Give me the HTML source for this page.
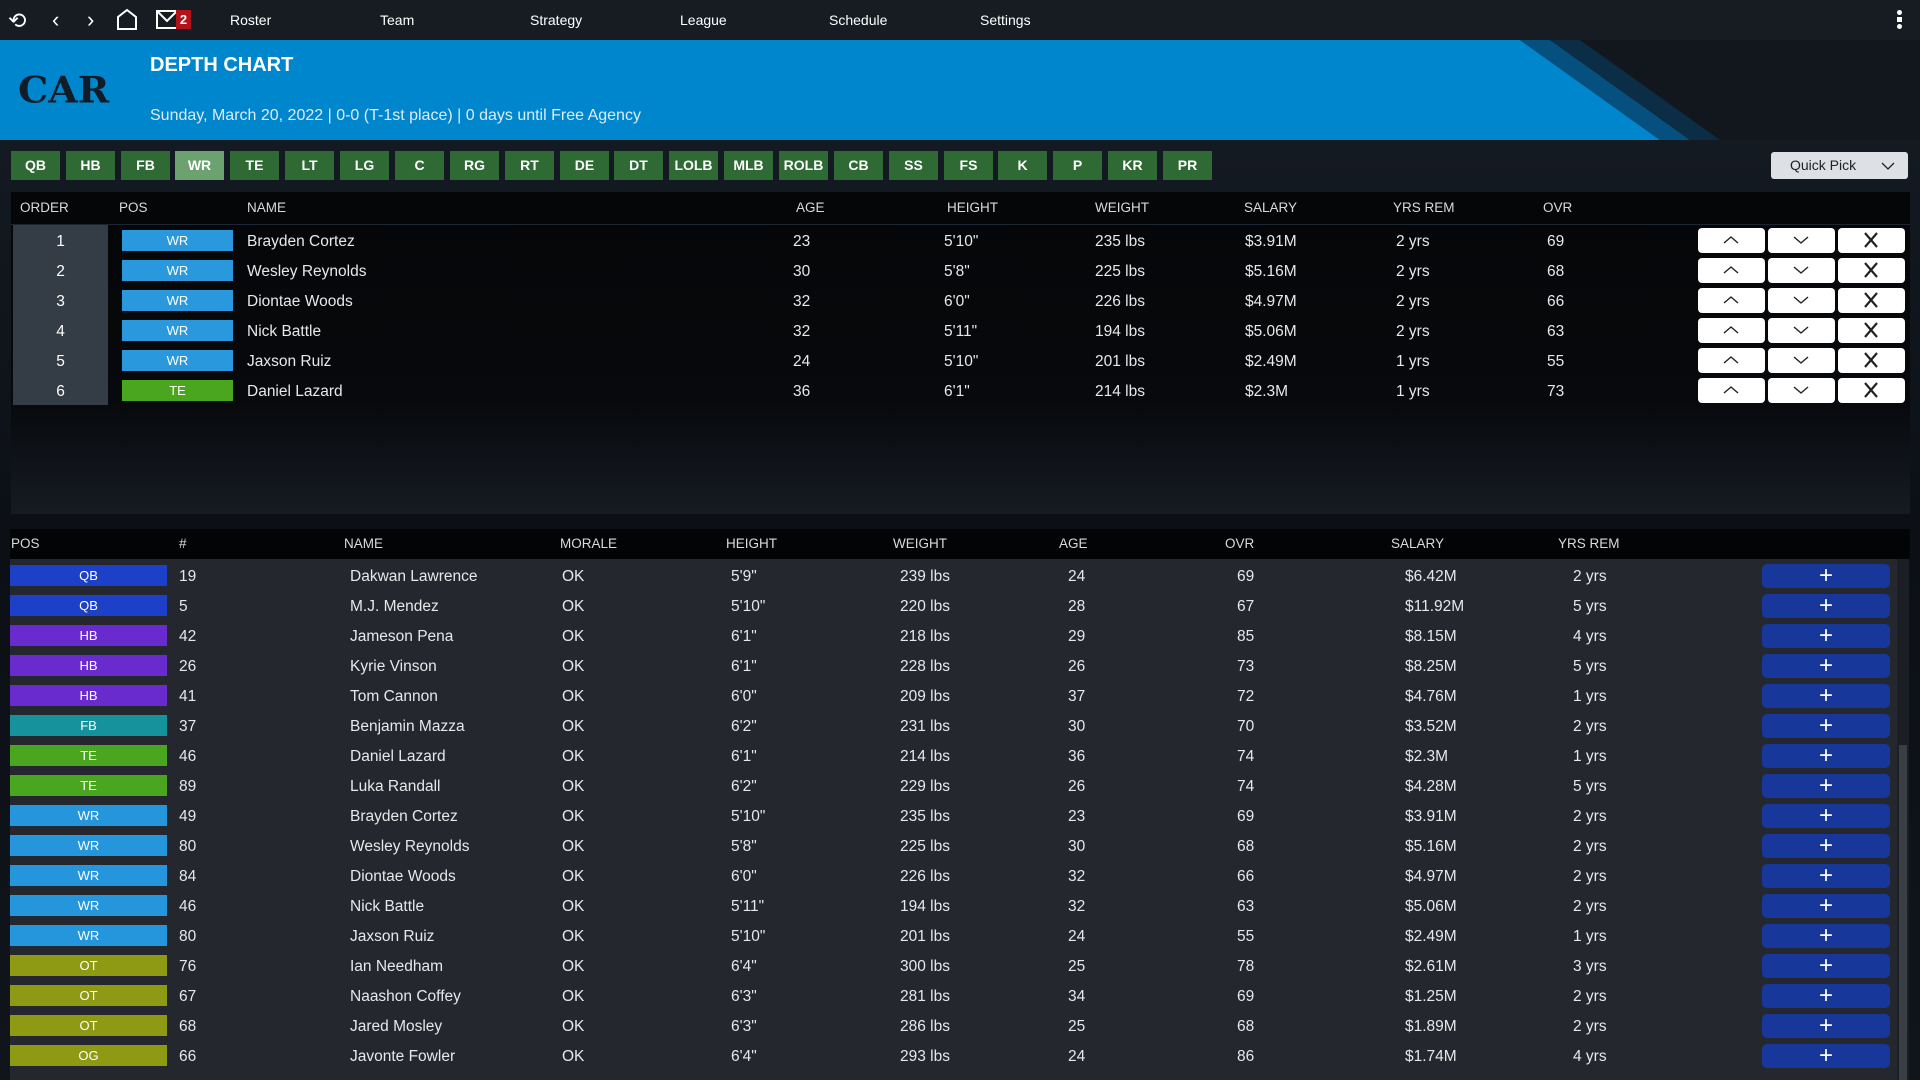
<!DOCTYPE html>
<html><head><meta charset="utf-8"><style>
*{margin:0;padding:0;box-sizing:border-box}
body{width:1920px;height:1080px;overflow:hidden;background:#0d1117;font-family:"Liberation Sans",sans-serif;color:#e6e8ea;position:relative}
.a{position:absolute;white-space:nowrap}
#nav{position:absolute;left:0;top:0;width:1920px;height:40px;background:#171c23}
.nl{position:absolute;top:12px;font-size:14px;color:#fff}
#hdr{position:absolute;left:0;top:40px;width:1920px;height:100px;background:#12171d;overflow:hidden}
.tab{position:absolute;top:151px;width:49px;height:29px;background:#2f6a35;color:#fff;font-weight:bold;font-size:14px;text-align:center;line-height:29px}
.hd{font-size:13.5px;color:#d8dadc}
.row{position:absolute;height:30px;font-size:15.5px;line-height:30px}
.row span{position:absolute;top:2px}
.ord{position:absolute;left:13px;width:95px;height:30px;background:#343c46;text-align:center;color:#fff;padding-top:2px}
.bd{position:absolute;height:21px;top:5px;line-height:21px;text-align:center;font-size:13px;color:#fff}
.btn{position:absolute;top:3px;height:25px;width:67px;background:#fff;border-radius:4px}
.btn svg{position:absolute;left:23px;top:3px}
.pb{position:absolute;left:1762px;top:4px;width:128px;height:24px;background:#17389a;border-radius:5px;color:#fff;text-align:center;line-height:24px;font-size:24px}
</style></head><body>
<div id="nav">
 <div class="a" style="left:8px;top:8px;font-size:22px;color:#fff">&#x27F2;</div>
 <div class="a" style="left:52px;top:7px;font-size:22px;color:#fff">&#8249;</div>
 <div class="a" style="left:87px;top:7px;font-size:22px;color:#fff">&#8250;</div>
 <svg class="a" style="left:116px;top:8px" width="22" height="22"><path d="M2 21V9L11 2L20 9V21Z" fill="none" stroke="#fff" stroke-width="2"/></svg>
 <svg class="a" style="left:156px;top:10px" width="22" height="20"><rect x="1" y="1" width="20" height="17" fill="none" stroke="#fff" stroke-width="2"/><path d="M1 1L11 11L21 1" fill="none" stroke="#fff" stroke-width="2"/></svg>
 <div class="a" style="left:176px;top:10px;width:15px;height:19px;background:#b3121b;color:#fff;font-size:13px;font-weight:bold;text-align:center;line-height:19px">2</div>
 <div class="nl" style="left:230px">Roster</div>
 <div class="nl" style="left:380px">Team</div>
 <div class="nl" style="left:530px">Strategy</div>
 <div class="nl" style="left:680px">League</div>
 <div class="nl" style="left:829px">Schedule</div>
 <div class="nl" style="left:980px">Settings</div>
 <div class="a" style="left:1897px;top:10px;width:5px;height:5px;background:#fff;border-radius:50%"></div>
 <div class="a" style="left:1897px;top:17px;width:5px;height:5px;background:#fff"></div>
 <div class="a" style="left:1897px;top:24px;width:5px;height:5px;background:#fff;border-radius:50%"></div>
</div>
<div id="hdr">
 <svg class="a" style="left:0;top:0" width="1920" height="100"><polygon points="0,0 1520,0 1660,100 0,100" fill="#0086cc"/><polygon points="1520,0 1550,0 1690,100 1660,100" fill="#06507f"/><polygon points="1550,0 1580,0 1720,100 1690,100" fill="#0b2d45"/></svg>
 <div class="a" style="left:18px;top:27px;font-family:'DejaVu Serif',serif;font-weight:bold;font-size:38px;color:#101c28;transform:scaleY(0.95)">CAR</div>
 <div class="a" style="left:150px;top:14px;font-size:20px;font-weight:bold;color:#fff">DEPTH CHART</div>
 <div class="a" style="left:150px;top:67px;font-size:16px;color:#dcecf6">Sunday, March 20, 2022 | 0-0 (T-1st place) | 0 days until Free Agency</div>
</div>
<div class="a" style="left:0;top:140px;width:1920px;height:940px;background:linear-gradient(180deg,#141a22 0%,#0c1016 40%,#10151b 100%)"></div>
<div class="tab" style="left:11px">QB</div><div class="tab" style="left:66px">HB</div><div class="tab" style="left:121px">FB</div><div class="tab" style="left:175px;background:#6ba26f">WR</div><div class="tab" style="left:230px">TE</div><div class="tab" style="left:285px">LT</div><div class="tab" style="left:340px">LG</div><div class="tab" style="left:395px">C</div><div class="tab" style="left:450px">RG</div><div class="tab" style="left:505px">RT</div><div class="tab" style="left:560px">DE</div><div class="tab" style="left:614px">DT</div><div class="tab" style="left:669px">LOLB</div><div class="tab" style="left:724px">MLB</div><div class="tab" style="left:779px">ROLB</div><div class="tab" style="left:834px">CB</div><div class="tab" style="left:889px">SS</div><div class="tab" style="left:944px">FS</div><div class="tab" style="left:998px">K</div><div class="tab" style="left:1053px">P</div><div class="tab" style="left:1108px">KR</div><div class="tab" style="left:1163px">PR</div>
<div class="a" style="left:1771px;top:152px;width:137px;height:27px;background:#dde0e5;border-radius:3px;color:#222;font-size:14px;line-height:27px;padding-left:19px">Quick Pick<svg style="position:absolute;left:110px;top:10px" width="14" height="8"><path d="M1 1L7 7L13 1" fill="none" stroke="#222" stroke-width="1.3"/></svg></div>
<!-- top table -->
<div class="a" style="left:11px;top:192px;width:1899px;height:322px;background:linear-gradient(180deg,#050608 0%,#07090c 65%,#161b22 100%)"></div>
<div class="a" style="left:11px;top:224px;width:1899px;height:1px;background:#1d2530"></div>
<div class="a hd" style="left:20px;top:200px">ORDER</div><div class="a hd" style="left:119px;top:200px">POS</div><div class="a hd" style="left:247px;top:200px">NAME</div><div class="a hd" style="left:796px;top:200px">AGE</div><div class="a hd" style="left:947px;top:200px">HEIGHT</div><div class="a hd" style="left:1095px;top:200px">WEIGHT</div><div class="a hd" style="left:1244px;top:200px">SALARY</div><div class="a hd" style="left:1393px;top:200px">YRS REM</div><div class="a hd" style="left:1543px;top:200px">OVR</div>

<svg width="0" height="0" style="position:absolute"><defs>
<symbol id="up" viewBox="0 0 20 18"><path d="M3 12L10 6L17 12" fill="none" stroke="#222" stroke-width="1.4"/></symbol>
<symbol id="dn" viewBox="0 0 20 18"><path d="M3 6L10 12L17 6" fill="none" stroke="#222" stroke-width="1.4"/></symbol>
<symbol id="xx" viewBox="0 0 20 18"><path d="M4 2L16 16M16 2L4 16" fill="none" stroke="#222" stroke-width="2.2"/></symbol>
</defs></svg>

<div class="row" style="left:0;top:225px;width:1920px"><div class="ord">1</div><div class="bd" style="left:122px;width:111px;background:#2a98dc">WR</div><span style="left:247px">Brayden Cortez</span><span style="left:793px">23</span><span style="left:944px">5'10"</span><span style="left:1095px">235 lbs</span><span style="left:1245px">$3.91M</span><span style="left:1396px">2 yrs</span><span style="left:1547px">69</span><div class="btn" style="left:1698px"><svg width="20" height="18"><use href="#up"/></svg></div><div class="btn" style="left:1768px"><svg width="20" height="18"><use href="#dn"/></svg></div><div class="btn" style="left:1838px"><svg width="20" height="18"><use href="#xx"/></svg></div></div>
<div class="row" style="left:0;top:255px;width:1920px"><div class="ord">2</div><div class="bd" style="left:122px;width:111px;background:#2a98dc">WR</div><span style="left:247px">Wesley Reynolds</span><span style="left:793px">30</span><span style="left:944px">5'8"</span><span style="left:1095px">225 lbs</span><span style="left:1245px">$5.16M</span><span style="left:1396px">2 yrs</span><span style="left:1547px">68</span><div class="btn" style="left:1698px"><svg width="20" height="18"><use href="#up"/></svg></div><div class="btn" style="left:1768px"><svg width="20" height="18"><use href="#dn"/></svg></div><div class="btn" style="left:1838px"><svg width="20" height="18"><use href="#xx"/></svg></div></div>
<div class="row" style="left:0;top:285px;width:1920px"><div class="ord">3</div><div class="bd" style="left:122px;width:111px;background:#2a98dc">WR</div><span style="left:247px">Diontae Woods</span><span style="left:793px">32</span><span style="left:944px">6'0"</span><span style="left:1095px">226 lbs</span><span style="left:1245px">$4.97M</span><span style="left:1396px">2 yrs</span><span style="left:1547px">66</span><div class="btn" style="left:1698px"><svg width="20" height="18"><use href="#up"/></svg></div><div class="btn" style="left:1768px"><svg width="20" height="18"><use href="#dn"/></svg></div><div class="btn" style="left:1838px"><svg width="20" height="18"><use href="#xx"/></svg></div></div>
<div class="row" style="left:0;top:315px;width:1920px"><div class="ord">4</div><div class="bd" style="left:122px;width:111px;background:#2a98dc">WR</div><span style="left:247px">Nick Battle</span><span style="left:793px">32</span><span style="left:944px">5'11"</span><span style="left:1095px">194 lbs</span><span style="left:1245px">$5.06M</span><span style="left:1396px">2 yrs</span><span style="left:1547px">63</span><div class="btn" style="left:1698px"><svg width="20" height="18"><use href="#up"/></svg></div><div class="btn" style="left:1768px"><svg width="20" height="18"><use href="#dn"/></svg></div><div class="btn" style="left:1838px"><svg width="20" height="18"><use href="#xx"/></svg></div></div>
<div class="row" style="left:0;top:345px;width:1920px"><div class="ord">5</div><div class="bd" style="left:122px;width:111px;background:#2a98dc">WR</div><span style="left:247px">Jaxson Ruiz</span><span style="left:793px">24</span><span style="left:944px">5'10"</span><span style="left:1095px">201 lbs</span><span style="left:1245px">$2.49M</span><span style="left:1396px">1 yrs</span><span style="left:1547px">55</span><div class="btn" style="left:1698px"><svg width="20" height="18"><use href="#up"/></svg></div><div class="btn" style="left:1768px"><svg width="20" height="18"><use href="#dn"/></svg></div><div class="btn" style="left:1838px"><svg width="20" height="18"><use href="#xx"/></svg></div></div>
<div class="row" style="left:0;top:375px;width:1920px"><div class="ord">6</div><div class="bd" style="left:122px;width:111px;background:#4aa61e">TE</div><span style="left:247px">Daniel Lazard</span><span style="left:793px">36</span><span style="left:944px">6'1"</span><span style="left:1095px">214 lbs</span><span style="left:1245px">$2.3M</span><span style="left:1396px">1 yrs</span><span style="left:1547px">73</span><div class="btn" style="left:1698px"><svg width="20" height="18"><use href="#up"/></svg></div><div class="btn" style="left:1768px"><svg width="20" height="18"><use href="#dn"/></svg></div><div class="btn" style="left:1838px"><svg width="20" height="18"><use href="#xx"/></svg></div></div>

<!-- bottom table -->
<div class="a" style="left:10px;top:529px;width:1900px;height:30px;background:#030405"></div>
<div class="a" style="left:10px;top:559px;width:1887px;height:521px;background:#24272e"></div>
<div class="a" style="left:1897px;top:559px;width:12px;height:521px;background:#1b1e23"></div>
<div class="a" style="left:1899px;top:745px;width:8px;height:335px;background:#3a3e45"></div>
<div class="a hd" style="left:11px;top:536px">POS</div><div class="a hd" style="left:179px;top:536px">#</div><div class="a hd" style="left:344px;top:536px">NAME</div><div class="a hd" style="left:560px;top:536px">MORALE</div><div class="a hd" style="left:726px;top:536px">HEIGHT</div><div class="a hd" style="left:893px;top:536px">WEIGHT</div><div class="a hd" style="left:1059px;top:536px">AGE</div><div class="a hd" style="left:1225px;top:536px">OVR</div><div class="a hd" style="left:1391px;top:536px">SALARY</div><div class="a hd" style="left:1558px;top:536px">YRS REM</div>

<div class="row" style="left:0;top:560px;width:1920px"><div class="bd" style="left:10px;width:157px;background:#1d40c8">QB</div><span style="left:179px">19</span><span style="left:350px">Dakwan Lawrence</span><span style="left:562px">OK</span><span style="left:731px">5'9"</span><span style="left:900px">239 lbs</span><span style="left:1068px">24</span><span style="left:1237px">69</span><span style="left:1405px">$6.42M</span><span style="left:1573px">2 yrs</span><div class="pb">+</div></div>
<div class="row" style="left:0;top:590px;width:1920px"><div class="bd" style="left:10px;width:157px;background:#1d40c8">QB</div><span style="left:179px">5</span><span style="left:350px">M.J. Mendez</span><span style="left:562px">OK</span><span style="left:731px">5'10"</span><span style="left:900px">220 lbs</span><span style="left:1068px">28</span><span style="left:1237px">67</span><span style="left:1405px">$11.92M</span><span style="left:1573px">5 yrs</span><div class="pb">+</div></div>
<div class="row" style="left:0;top:620px;width:1920px"><div class="bd" style="left:10px;width:157px;background:#6a2bce">HB</div><span style="left:179px">42</span><span style="left:350px">Jameson Pena</span><span style="left:562px">OK</span><span style="left:731px">6'1"</span><span style="left:900px">218 lbs</span><span style="left:1068px">29</span><span style="left:1237px">85</span><span style="left:1405px">$8.15M</span><span style="left:1573px">4 yrs</span><div class="pb">+</div></div>
<div class="row" style="left:0;top:650px;width:1920px"><div class="bd" style="left:10px;width:157px;background:#6a2bce">HB</div><span style="left:179px">26</span><span style="left:350px">Kyrie Vinson</span><span style="left:562px">OK</span><span style="left:731px">6'1"</span><span style="left:900px">228 lbs</span><span style="left:1068px">26</span><span style="left:1237px">73</span><span style="left:1405px">$8.25M</span><span style="left:1573px">5 yrs</span><div class="pb">+</div></div>
<div class="row" style="left:0;top:680px;width:1920px"><div class="bd" style="left:10px;width:157px;background:#6a2bce">HB</div><span style="left:179px">41</span><span style="left:350px">Tom Cannon</span><span style="left:562px">OK</span><span style="left:731px">6'0"</span><span style="left:900px">209 lbs</span><span style="left:1068px">37</span><span style="left:1237px">72</span><span style="left:1405px">$4.76M</span><span style="left:1573px">1 yrs</span><div class="pb">+</div></div>
<div class="row" style="left:0;top:710px;width:1920px"><div class="bd" style="left:10px;width:157px;background:#15929c">FB</div><span style="left:179px">37</span><span style="left:350px">Benjamin Mazza</span><span style="left:562px">OK</span><span style="left:731px">6'2"</span><span style="left:900px">231 lbs</span><span style="left:1068px">30</span><span style="left:1237px">70</span><span style="left:1405px">$3.52M</span><span style="left:1573px">2 yrs</span><div class="pb">+</div></div>
<div class="row" style="left:0;top:740px;width:1920px"><div class="bd" style="left:10px;width:157px;background:#4aa61e">TE</div><span style="left:179px">46</span><span style="left:350px">Daniel Lazard</span><span style="left:562px">OK</span><span style="left:731px">6'1"</span><span style="left:900px">214 lbs</span><span style="left:1068px">36</span><span style="left:1237px">74</span><span style="left:1405px">$2.3M</span><span style="left:1573px">1 yrs</span><div class="pb">+</div></div>
<div class="row" style="left:0;top:770px;width:1920px"><div class="bd" style="left:10px;width:157px;background:#4aa61e">TE</div><span style="left:179px">89</span><span style="left:350px">Luka Randall</span><span style="left:562px">OK</span><span style="left:731px">6'2"</span><span style="left:900px">229 lbs</span><span style="left:1068px">26</span><span style="left:1237px">74</span><span style="left:1405px">$4.28M</span><span style="left:1573px">5 yrs</span><div class="pb">+</div></div>
<div class="row" style="left:0;top:800px;width:1920px"><div class="bd" style="left:10px;width:157px;background:#2596dc">WR</div><span style="left:179px">49</span><span style="left:350px">Brayden Cortez</span><span style="left:562px">OK</span><span style="left:731px">5'10"</span><span style="left:900px">235 lbs</span><span style="left:1068px">23</span><span style="left:1237px">69</span><span style="left:1405px">$3.91M</span><span style="left:1573px">2 yrs</span><div class="pb">+</div></div>
<div class="row" style="left:0;top:830px;width:1920px"><div class="bd" style="left:10px;width:157px;background:#2596dc">WR</div><span style="left:179px">80</span><span style="left:350px">Wesley Reynolds</span><span style="left:562px">OK</span><span style="left:731px">5'8"</span><span style="left:900px">225 lbs</span><span style="left:1068px">30</span><span style="left:1237px">68</span><span style="left:1405px">$5.16M</span><span style="left:1573px">2 yrs</span><div class="pb">+</div></div>
<div class="row" style="left:0;top:860px;width:1920px"><div class="bd" style="left:10px;width:157px;background:#2596dc">WR</div><span style="left:179px">84</span><span style="left:350px">Diontae Woods</span><span style="left:562px">OK</span><span style="left:731px">6'0"</span><span style="left:900px">226 lbs</span><span style="left:1068px">32</span><span style="left:1237px">66</span><span style="left:1405px">$4.97M</span><span style="left:1573px">2 yrs</span><div class="pb">+</div></div>
<div class="row" style="left:0;top:890px;width:1920px"><div class="bd" style="left:10px;width:157px;background:#2596dc">WR</div><span style="left:179px">46</span><span style="left:350px">Nick Battle</span><span style="left:562px">OK</span><span style="left:731px">5'11"</span><span style="left:900px">194 lbs</span><span style="left:1068px">32</span><span style="left:1237px">63</span><span style="left:1405px">$5.06M</span><span style="left:1573px">2 yrs</span><div class="pb">+</div></div>
<div class="row" style="left:0;top:920px;width:1920px"><div class="bd" style="left:10px;width:157px;background:#2596dc">WR</div><span style="left:179px">80</span><span style="left:350px">Jaxson Ruiz</span><span style="left:562px">OK</span><span style="left:731px">5'10"</span><span style="left:900px">201 lbs</span><span style="left:1068px">24</span><span style="left:1237px">55</span><span style="left:1405px">$2.49M</span><span style="left:1573px">1 yrs</span><div class="pb">+</div></div>
<div class="row" style="left:0;top:950px;width:1920px"><div class="bd" style="left:10px;width:157px;background:#8e9a14">OT</div><span style="left:179px">76</span><span style="left:350px">Ian Needham</span><span style="left:562px">OK</span><span style="left:731px">6'4"</span><span style="left:900px">300 lbs</span><span style="left:1068px">25</span><span style="left:1237px">78</span><span style="left:1405px">$2.61M</span><span style="left:1573px">3 yrs</span><div class="pb">+</div></div>
<div class="row" style="left:0;top:980px;width:1920px"><div class="bd" style="left:10px;width:157px;background:#8e9a14">OT</div><span style="left:179px">67</span><span style="left:350px">Naashon Coffey</span><span style="left:562px">OK</span><span style="left:731px">6'3"</span><span style="left:900px">281 lbs</span><span style="left:1068px">34</span><span style="left:1237px">69</span><span style="left:1405px">$1.25M</span><span style="left:1573px">2 yrs</span><div class="pb">+</div></div>
<div class="row" style="left:0;top:1010px;width:1920px"><div class="bd" style="left:10px;width:157px;background:#8e9a14">OT</div><span style="left:179px">68</span><span style="left:350px">Jared Mosley</span><span style="left:562px">OK</span><span style="left:731px">6'3"</span><span style="left:900px">286 lbs</span><span style="left:1068px">25</span><span style="left:1237px">68</span><span style="left:1405px">$1.89M</span><span style="left:1573px">2 yrs</span><div class="pb">+</div></div>
<div class="row" style="left:0;top:1040px;width:1920px"><div class="bd" style="left:10px;width:157px;background:#8e9a14">OG</div><span style="left:179px">66</span><span style="left:350px">Javonte Fowler</span><span style="left:562px">OK</span><span style="left:731px">6'4"</span><span style="left:900px">293 lbs</span><span style="left:1068px">24</span><span style="left:1237px">86</span><span style="left:1405px">$1.74M</span><span style="left:1573px">4 yrs</span><div class="pb">+</div></div>
</body></html>
